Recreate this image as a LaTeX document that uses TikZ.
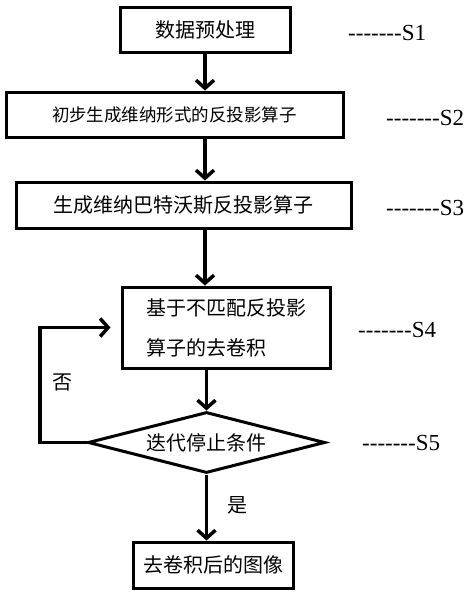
\documentclass[tikz,border=0pt]{standalone}
\usepackage{fontspec}
\setmainfont{Liberation Serif}
\newfontfamily\cjk{Noto Sans CJK SC}
\usetikzlibrary{arrows.meta,shapes.geometric,calc}
\newcommand{\sdash}{-{}-{}-{}-{}-{}-{}-}
\begin{document}
\begin{tikzpicture}[x=1pt,y=-1pt,
  box/.style={draw,line width=3pt,rectangle,inner sep=0pt,font=\cjk\fontsize{20}{24}\selectfont},
  arr/.style={line width=3.5pt,-{Straight Barb[length=8pt,width=18pt]}},
  lbl/.style={anchor=west,inner sep=0pt,font=\fontsize{23}{26}\selectfont},
  cj/.style={inner sep=0pt,font=\cjk\fontsize{20}{24}\selectfont}]
\useasboundingbox (0,0) rectangle (474,595);
\node[box,minimum width=170pt,minimum height=45pt] (b1) at (205,29.5) {数据预处理};
\node[box,minimum width=337pt,minimum height=45pt,font=\cjk\fontsize{17.5}{21}\selectfont] (b2) at (174.5,114.5) {初步生成维纳形式的反投影算子};
\node[box,minimum width=335pt,minimum height=46pt] (b3) at (183.5,205) {生成维纳巴特沃斯反投影算子};
\node[box,minimum width=208pt,minimum height=81pt,align=left] (b4) at (226,327.5) {基于不匹配反投影\\[16pt]算子的去卷积};
\node[box,diamond,aspect=3.9,minimum width=237pt,minimum height=61pt] (d) at (206.5,442.5) {迭代停止条件};
\node[box,minimum width=160pt,minimum height=46pt] (b6) at (213,565) {去卷积后的图像};
\draw[arr] (b1.south) -- (b1.south |- b2.north);
\draw[arr] (b2.south -| b1.south) -- (b3.north -| b1.south);
\draw[arr] (b3.south -| b1.south) -- (b4.north -| b1.south);
\draw[arr] (b4.south -| d.north) -- (d.north);
\draw[arr] (d.south) -- (b6.north -| d.south);
\coordinate (lc) at (40,442.5);
\draw[arr] (d.west) -- (lc) |- ([xshift=-10pt]b4.west);
\node[cj] (no) at (62,382) {否};
\node[cj] (yes) at (237,505) {是};
\node[lbl] (s1) at (348,33) {\sdash S1};
\node[lbl] (s2) at (386,118) {\sdash S2};
\node[lbl] (s3) at (386,208) {\sdash S3};
\node[lbl] (s4) at (358,330) {\sdash S4};
\node[lbl] (s5) at (362,443) {\sdash S5};
\end{tikzpicture}
\end{document}
